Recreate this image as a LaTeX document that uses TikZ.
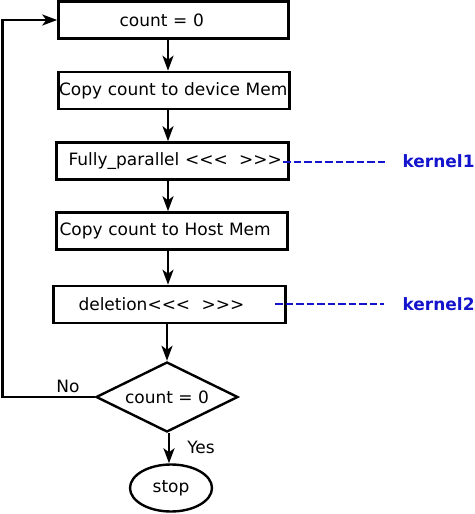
\documentclass[tikz,border=0pt]{standalone}
\usepackage{fontspec}
\setmainfont{DejaVu Sans}[Ligatures=TeXOff]
\usetikzlibrary{shapes.geometric,arrows.meta}
\definecolor{kblue}{RGB}{20,20,205}
\begin{document}
\begin{tikzpicture}[x=1pt,y=-1pt,
  every node/.style={font=\fontsize{17}{19}\selectfont},
  box/.style={draw,line width=2.6pt,minimum height=37pt,inner xsep=0pt,inner ysep=0pt,align=left},
  arr/.style={-{Stealth[length=15pt,width=11pt,inset=4pt]},line width=2.4pt},
  kdash/.style={draw=kblue,dash pattern=on 7.5pt off 3pt,line width=1.3pt},
  klabel/.style={text=kblue,font=\fontsize{17}{19}\selectfont\bfseries,anchor=west}]
\useasboundingbox (0,0) rectangle (474,514);
\node[box,text width=230pt] (b1) at (173.5,20) {\hspace*{61pt}count = 0};
\node[box,text width=231pt] (b2) at (174,90.5) {\hspace*{0.5pt}\mbox{Copy count to device Mem}};
\node[box,text width=232pt] (b3) at (172.5,161) {\hspace*{12pt}\mbox{Fully\_parallel <<<~~>>>}};
\node[box,text width=231pt] (b4) at (172,231) {\hspace*{3pt}\mbox{Copy count to Host Mem}};
\node[box,text width=232pt] (b5) at (169.5,304.5) {\hspace*{25pt}\mbox{deletion<<<~~>>>}};
\node[diamond,draw,line width=2.4pt,aspect=2.03,minimum width=142pt,minimum height=70pt,inner sep=0pt] (d) at (167,397) {count = 0};
\node[ellipse,draw,line width=2.4pt,minimum width=82pt,minimum height=47pt,inner sep=0pt] (s) at (171,488) {stop};
\draw[arr] (b1.south -| 168,0) -- (b2.north -| 168,0);
\draw[arr] (b2.south -| 168,0) -- (b3.north -| 168,0);
\draw[arr] (b3.south -| 168,0) -- (b4.north -| 168,0);
\draw[arr] (b4.south -| 168,0) -- (b5.north -| 168,0);
\draw[arr] (b5.south -| 167,0) -- (d.north);
\draw[arr] (d.south -| 169,0) -- (s.north -| 169,0);
\coordinate (lc) at (2.5,397);
\draw[arr] (d.west) -- (lc) |- (b1.west);
\node at (68,386) {No};
\node at (201,447) {Yes};
\coordinate (k1a) at (283,162);
\coordinate (k1b) at (388,162);
\coordinate (k2a) at (275,304);
\coordinate (k2b) at (384,304);
\path[kdash] (k1a) -- (k1b);
\path[kdash] (k2a) -- (k2b);
\node[klabel] (kl1) at (399,161) {kernel1};
\node[klabel] (kl2) at (399,304) {kernel2};
\end{tikzpicture}
\end{document}
